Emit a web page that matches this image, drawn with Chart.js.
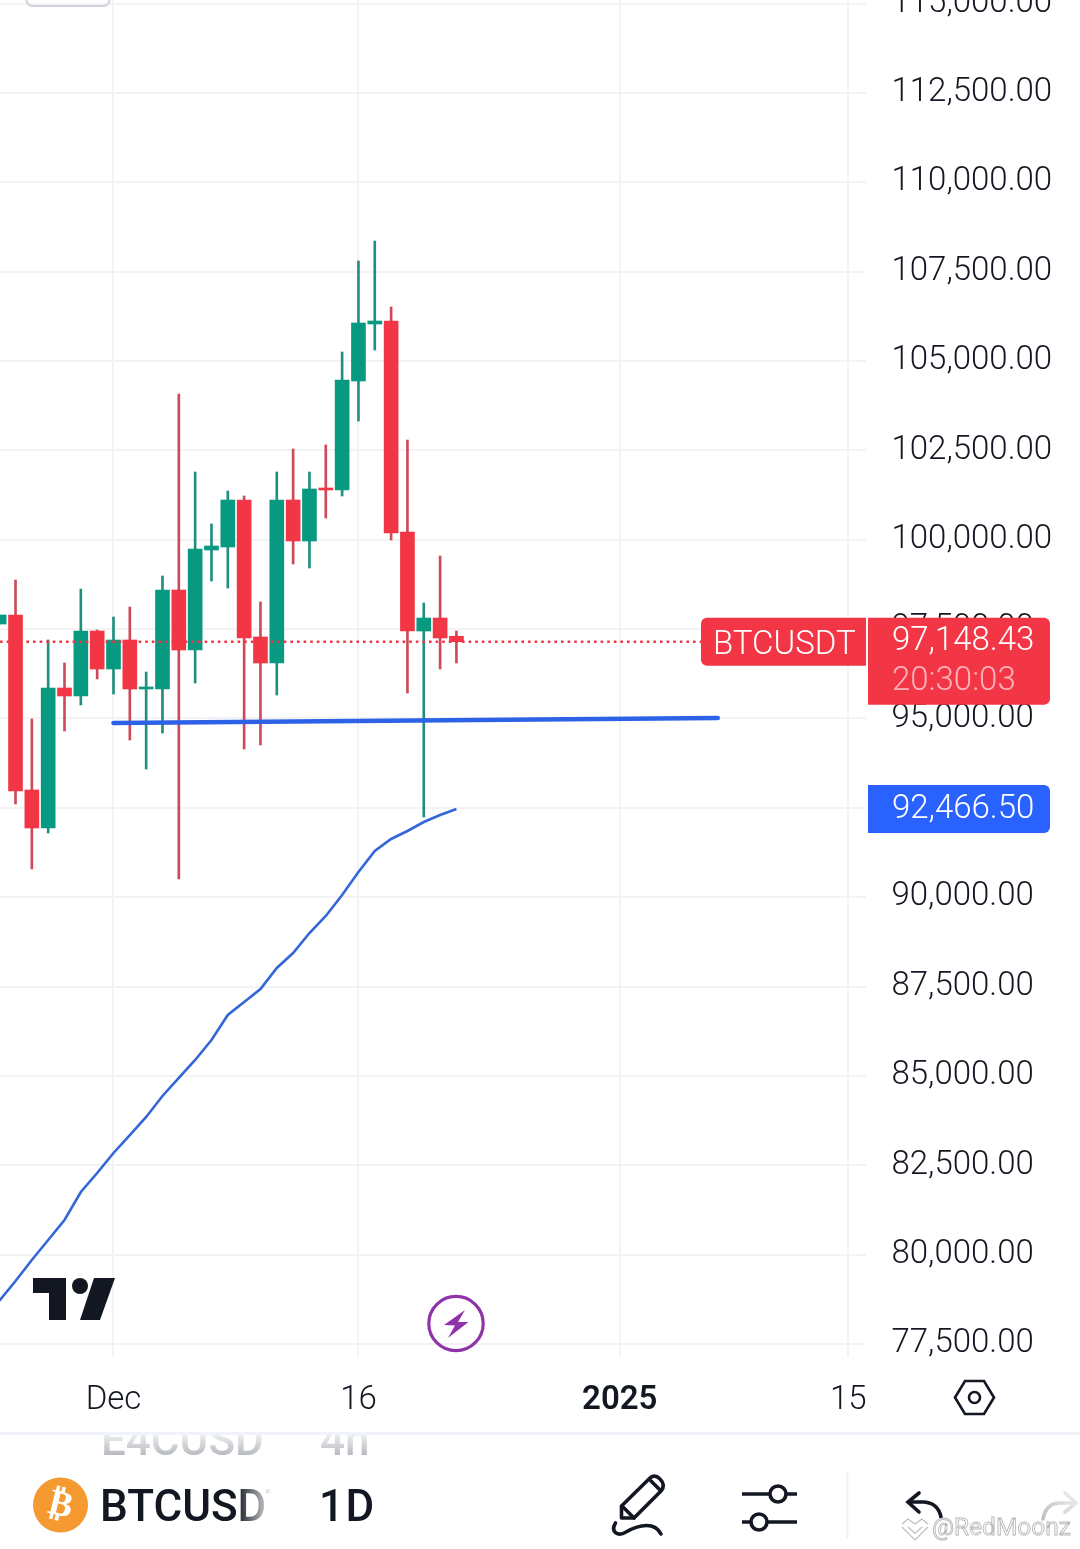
<!DOCTYPE html>
<html>
<head>
<meta charset="utf-8">
<title>BTCUSDT 1D</title>
<script src="https://cdn.jsdelivr.net/npm/chart.js@4"></script>
<style>
html,body{margin:0;padding:0;background:#fff;width:1080px;height:1549px;overflow:hidden}
canvas{display:block}
</style>
</head>
<body>
<canvas id="c" width="1080" height="1549"></canvas>
<script>
// day offsets from 1 Dec 2024 (Nov 24 = -7 ... Dec 22 = 21)
const days   = [-7,-6,-5,-4,-3,-2,-1,0,1,2,3,4,5,6,7,8,9,10,11,12,13,14,15,16,17,18,19,20,21];
const opens  = [97642,97894,92999,91936,95852,95628,97446,96383,97195,95824,95824,98593,96915,99712,99796,101111,97279,96551,101111,99964,101447,101391,104440,106034,106118,100216,97446,97810,97300];
const highs  = [97894,98873,94985,97195,96551,98621,97474,97838,98118,96299,98985,104076,101894,100440,101363,101223,98258,101894,102538,101894,102650,105251,107797,108356,106510,102789,98230,99544,97446];
const lows   = [97642,92607,90789,91796,94649,95376,96104,95684,94397,93586,94593,90509,95992,98845,98649,94145,94257,95656,99321,99209,100607,101223,103321,105307,99992,95712,92243,96383,96551];
const closes = [97894,92971,91936,95852,95628,97446,96383,97195,95824,95880,98593,96915,99740,99824,101111,97251,96551,101111,99964,101419,101391,104468,106062,106118,100188,97446,97810,97251,97148.43];
const maValues = [78704,79263,79851,80410,80970,81753,82285,82844,83347,83851,84439,84942,85446,86005,86704,87068,87432,88019,88439,88998,89474,90061,90705,91292,91628,91852,92103,92299,92466.5];
const levelDays = [0,37];
const levelValues = [94873,95013];
const lastPrice = 97148.43;
const maLast = 92466.5;
const xTickDays = [0,15,31,45];
const xTickLabels = ['Dec','16','2025','15'];
const yTickValues = [77500,80000,82500,85000,87500,90000,92500,95000,97500,100000,102500,105000,107500,110000,112500,115000];
const xDayRange = [-6.95,46.08];
const yRange = [77137,115098];
const priceLastDay = 36.5;

const UP='#089981', DOWN='#F23645', WICK_UP='#1F8F7E', WICK_DOWN='#CE4A5A', INK='#131722', BLUE='#2962FF';
const isUp = closes.map((c,i)=>c>=opens[i]);
const fmt = v => Number(v).toLocaleString('en-US',{minimumFractionDigits:2,maximumFractionDigits:2});
const F = (w,s)=>`${w} ${s}px Roboto`;

function roundRect(ctx,x,y,w,h,r){ // r: [tl,tr,br,bl]
  ctx.beginPath();ctx.roundRect(x,y,w,h,r);ctx.fill();
}
function poly(ctx,pts,close){
  ctx.beginPath();pts.forEach((p,i)=>i?ctx.lineTo(p[0],p[1]):ctx.moveTo(p[0],p[1]));
  if(close)ctx.closePath();
}

const chrome = {
  id:'chrome',
  afterDraw(chart){
    const ctx=chart.ctx, y=chart.scales.y;
    ctx.save();
    ctx.textAlign='left';ctx.textBaseline='alphabetic';

    // last-price tags anchored to the price scale
    const py=y.getPixelForValue(lastPrice), my=y.getPixelForValue(maLast);
    ctx.fillStyle=DOWN;
    roundRect(ctx,701,py-24,165,48,[6,0,0,6]);
    roundRect(ctx,868,py-24,182,87,[0,6,6,0]);
    ctx.font=F(300,33);
    ctx.fillStyle='#fff';
    ctx.fillText('BTCUSDT',713,py+12.5);
    ctx.fillText(fmt(lastPrice),892,py+8.5);
    ctx.fillStyle='#FFB2BA';
    ctx.fillText('20:30:03',892,py+48);
    ctx.fillStyle=BLUE;
    roundRect(ctx,868,my-24,182,48,[0,6,6,0]);
    ctx.fillStyle='#fff';
    ctx.fillText(fmt(maLast),892,my+9);

    // partial button at the top
    ctx.strokeStyle='#D1D4DC';ctx.lineWidth=2;
    ctx.beginPath();ctx.roundRect(26.5,-12,83,18,6);ctx.stroke();

    // TradingView logo
    ctx.fillStyle=INK;
    poly(ctx,[[33,1278],[66,1278],[66,1320],[49,1320],[49,1293],[33,1293]],true);ctx.fill();
    ctx.beginPath();ctx.arc(80,1286,8,0,Math.PI*2);ctx.fill();
    poly(ctx,[[94,1278],[115,1278],[100,1320],[80,1320]],true);ctx.fill();

    // lightning badge
    ctx.strokeStyle='#8E33A8';ctx.lineWidth=3.2;
    ctx.beginPath();ctx.arc(456,1323.5,27.2,0,Math.PI*2);ctx.stroke();
    ctx.fillStyle='#8E33A8';
    poly(ctx,[[465,1310],[444,1325],[455,1325.5],[448,1338],[468.5,1322],[458,1322]],true);ctx.fill();

    // panel separator
    ctx.fillStyle='#F0F3FA';
    ctx.fillRect(0,1432,1080,3);
    ctx.fillRect(846,1473,2.5,65);

    // settings hexagon
    ctx.strokeStyle=INK;ctx.lineWidth=2.6;ctx.lineJoin='miter';
    poly(ctx,[[955,1397.5],[965,1381],[984,1381],[994,1397.5],[984,1414],[965,1414]],true);ctx.stroke();
    ctx.beginPath();ctx.arc(974.5,1397.5,5.5,0,Math.PI*2);ctx.stroke();

    // scrolled-away row
    ctx.save();
    ctx.beginPath();ctx.rect(0,1435,500,30);ctx.clip();
    const g1=ctx.createLinearGradient(0,1435,0,1456);
    g1.addColorStop(0,'#ECEDEF');g1.addColorStop(1,'#B4B7BD');
    ctx.fillStyle=g1;ctx.font=F(500,44);
    ctx.fillText('E4CUSD',101,1455);
    ctx.fillText('4h',320,1455);
    ctx.restore();

    // symbol row
    ctx.fillStyle='#F59A30';
    ctx.beginPath();ctx.arc(60.5,1505,27.5,0,Math.PI*2);ctx.fill();
    ctx.save();
    ctx.translate(60.5,1505);ctx.rotate(0.24);
    ctx.fillStyle='#fff';ctx.font='700 36px "DejaVu Sans"';ctx.textAlign='center';ctx.textBaseline='middle';
    ctx.fillText('\u20BF',0,1);
    ctx.restore();
    const g2=ctx.createLinearGradient(236,0,274,0);
    g2.addColorStop(0,INK);g2.addColorStop(0.75,'#B9BBBF');g2.addColorStop(1,'rgba(255,255,255,0)');
    ctx.save();
    ctx.beginPath();ctx.rect(95,1480,178,50);ctx.clip();
    ctx.fillStyle=g2;ctx.font=F(500,44);
    ctx.fillText('BTCUSDT',100,1520.5);
    ctx.restore();
    ctx.fillStyle=INK;ctx.font=F(500,44);
    ctx.letterSpacing='1.5px';
    ctx.fillText('1D',319,1520.5);
    ctx.letterSpacing='0px';

    // pencil
    ctx.strokeStyle=INK;ctx.lineWidth=3.6;ctx.lineJoin='round';ctx.lineCap='round';
    ctx.beginPath();ctx.moveTo(621.5,1518);ctx.lineTo(621.5,1506);ctx.lineTo(650,1478);
    ctx.quadraticCurveTo(655,1474,660,1479);ctx.quadraticCurveTo(666,1485,661,1491);
    ctx.lineTo(634,1518);ctx.closePath();ctx.stroke();
    poly(ctx,[[622,1506],[634,1518]]);ctx.stroke();
    poly(ctx,[[651,1481],[660,1490]]);ctx.stroke();
    ctx.beginPath();ctx.moveTo(615.5,1523);
    ctx.bezierCurveTo(610,1532,618,1537,626,1532);
    ctx.bezierCurveTo(640,1524,655,1522,661,1534);ctx.stroke();

    // sliders
    ctx.lineCap='butt';
    [[1494,778],[1522,759]].forEach(([ly,cx])=>{
      poly(ctx,[[742,ly],[797,ly]]);ctx.stroke();
      ctx.fillStyle='#fff';ctx.beginPath();ctx.arc(cx,ly,8,0,Math.PI*2);ctx.fill();ctx.stroke();
    });

    // undo / redo
    ctx.lineCap='round';ctx.lineJoin='miter';ctx.lineWidth=3.6;ctx.strokeStyle=INK;
    poly(ctx,[[919,1493],[908,1502],[919,1512]]);ctx.stroke();
    ctx.beginPath();ctx.moveTo(909,1502);ctx.lineTo(924,1502);ctx.quadraticCurveTo(938,1503,941,1517);ctx.stroke();
    const g3=ctx.createLinearGradient(1043,1520,1076,1495);
    g3.addColorStop(0,'#BDBFC3');g3.addColorStop(1,'#ECEDEF');
    ctx.strokeStyle=g3;
    poly(ctx,[[1065,1493],[1076,1503],[1065,1512]]);ctx.stroke();
    ctx.beginPath();ctx.moveTo(1075,1503);ctx.lineTo(1060,1503);ctx.quadraticCurveTo(1046,1503,1043,1519);ctx.stroke();

    // watermark
    ctx.lineCap='butt';
    ctx.strokeStyle='#BDBDBD';ctx.lineWidth=1.1;
    poly(ctx,[[902,1527],[915,1540],[928,1527]]);ctx.stroke();
    poly(ctx,[[908,1527],[915,1533.5],[922,1527]]);ctx.stroke();
    poly(ctx,[[902,1524],[908,1519],[915,1524],[922,1519],[928,1524]]);ctx.stroke();
    ctx.font=F(400,24.5);
    ctx.fillStyle='rgba(255,255,255,0.75)';
    ctx.fillText('@RedMoonz',932,1535);
    ctx.strokeStyle='#B8B8B8';ctx.lineWidth=0.9;
    ctx.strokeText('@RedMoonz',932,1535);
    ctx.restore();
  }
};

new Chart(document.getElementById('c'),{
  type:'bar',
  data:{datasets:[
    {type:'line',label:'Last price',order:0,data:[{x:xDayRange[0],y:lastPrice},{x:priceLastDay,y:lastPrice}],
      borderColor:DOWN,borderWidth:2.5,borderDash:[2.6,4],pointRadius:0,fill:false},
    {type:'line',label:'Support',order:1,data:levelDays.map((d,i)=>({x:d,y:levelValues[i]})),
      borderColor:'#2D62E6',borderWidth:4.6,borderCapStyle:'round',pointRadius:0,fill:false},
    {type:'line',label:'MA',order:2,data:days.map((d,i)=>({x:d,y:maValues[i]})),
      borderColor:'#3366D6',borderWidth:2.6,pointRadius:0,fill:false,tension:0},
    {label:'Body',order:3,grouped:false,barThickness:14,borderWidth:0,borderSkipped:false,
      data:days.map((d,i)=>({x:d,y:[Math.min(opens[i],closes[i]),Math.max(opens[i],closes[i])]})),
      backgroundColor:isUp.map(u=>u?UP:DOWN)},
    {label:'Wick',order:4,grouped:false,barThickness:2,borderWidth:0,borderSkipped:false,
      data:days.map((d,i)=>({x:d,y:[lows[i],highs[i]]})),
      backgroundColor:isUp.map(u=>u?WICK_UP:WICK_DOWN)}
  ]},
  options:{
    responsive:false,devicePixelRatio:1,animation:false,
    layout:{padding:0},
    plugins:{legend:{display:false},tooltip:{enabled:false},title:{display:false}},
    scales:{
      x:{type:'linear',position:'bottom',offset:false,min:xDayRange[0],max:xDayRange[1],
        grid:{offset:false,color:'#F2F3F5',lineWidth:2,drawTicks:false},border:{display:false},
        afterBuildTicks(s){s.ticks=xTickDays.map(v=>({value:v}));},
        afterFit(s){s.height=192;s.paddingLeft=0;s.paddingRight=0;},
        ticks:{autoSkip:false,maxRotation:0,padding:24,color:INK,
          font:ctx=>({family:'Roboto',size:33,weight:ctx.tick&&ctx.tick.value===31?'600':'300'}),
          callback:v=>xTickLabels[xTickDays.indexOf(v)]}
      },
      y:{type:'linear',position:'right',min:yRange[0],max:yRange[1],
        grid:{color:'#F2F3F5',lineWidth:2,drawTicks:false},border:{display:false},
        afterBuildTicks(s){s.ticks=yTickValues.map(v=>({value:v}));},
        afterFit(s){s.width=214;s.paddingTop=0;s.paddingBottom=0;},
        ticks:{autoSkip:false,padding:25.5,color:INK,labelOffset:0,
          font:{family:'Roboto',size:33,weight:'300'},callback:v=>fmt(v)}
      }
    }
  },
  plugins:[chrome]
});
</script>
</body>
</html>
